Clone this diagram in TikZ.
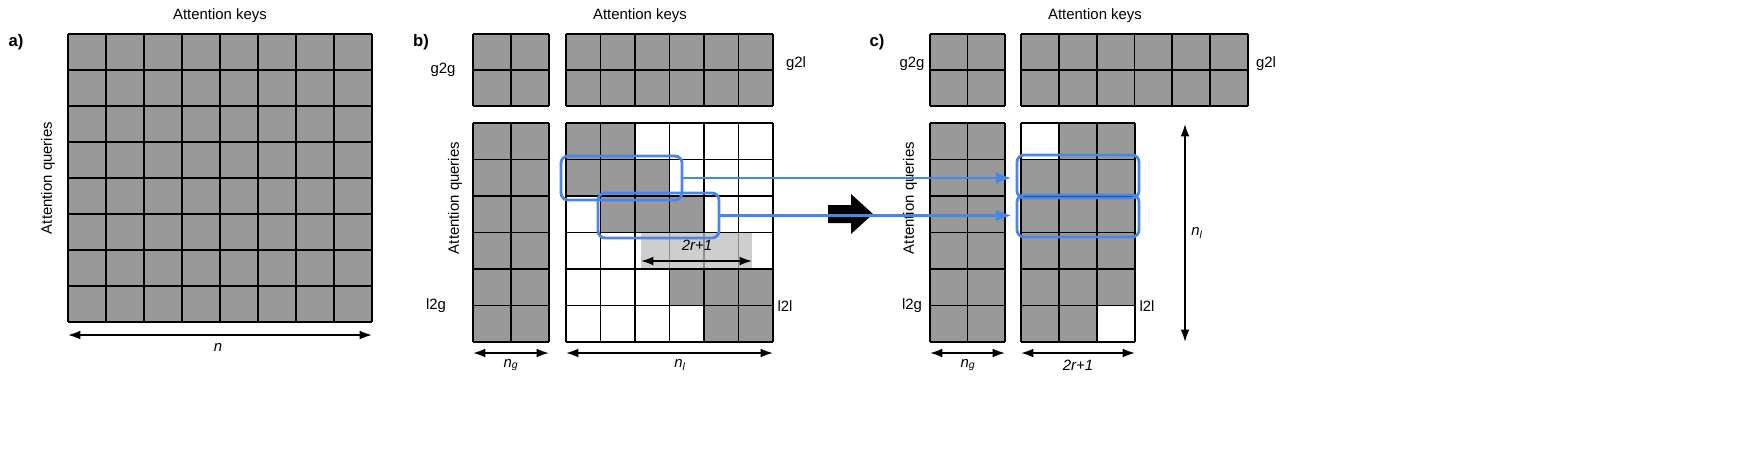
\documentclass[tikz,border=0pt]{standalone}
\usepackage{fontspec}
\setmainfont{Liberation Sans}
\usetikzlibrary{arrows.meta}
\definecolor{cellg}{RGB}{153,153,153}
\definecolor{hl}{RGB}{190,190,190}
\definecolor{bl}{RGB}{74,134,232}
\tikzset{
  lab/.style={font=\fontsize{8.5}{10}\selectfont, inner sep=0pt},
  ital/.style={lab, font=\fontsize{8.5}{10}\selectfont\itshape},
  pl/.style={font=\fontsize{9.5}{11}\selectfont\bfseries, inner sep=0pt},
  dim/.style={{Latex[length=7pt,width=5pt]}-{Latex[length=7pt,width=5pt]}, line width=1pt},
  bbox/.style={draw=bl, line width=1.6pt, rounded corners=4pt},
  barr/.style={draw=bl, line width=1.6pt, -{Latex[length=9pt,width=7pt]}},
  gl/.style={line width=1.1pt},
}
\newcommand\mygrid[8]{%
  \coordinate (#1-nw) at (#2,#3); \coordinate (#1-se) at (#4,#5);
  \pgfmathsetmacro\cw{(#4-#2)/#6}\pgfmathsetmacro\ch{(#5-#3)/#7}
  \foreach \c/\r in {#8}{\fill[cellg] ({#2+\c*\cw},{#3+\r*\ch}) rectangle ++(\cw,\ch);}
  \foreach \i in {0,...,#6}{\draw[gl] ({#2+\i*\cw},#3) -- ({#2+\i*\cw},#5);}
  \foreach \j in {0,...,#7}{\draw[gl] (#2,{#3+\j*\ch}) -- (#4,{#3+\j*\ch});}
}
\begin{document}
\begin{tikzpicture}[x=0.02cm,y=-0.02cm]
\useasboundingbox (0,0) rectangle (1740,464);
% ---------- a ----------
\node[pl] (la) at (16,42) {a)};
\node[lab] (ka) at (220,16) {Attention keys};
\node[lab,rotate=90] (qa) at (48,178) {Attention queries};
\mygrid{A}{68}{34}{372}{322}{8}{8}{0/0,1/0,2/0,3/0,4/0,5/0,6/0,7/0,0/1,1/1,2/1,3/1,4/1,5/1,6/1,7/1,0/2,1/2,2/2,3/2,4/2,5/2,6/2,7/2,0/3,1/3,2/3,3/3,4/3,5/3,6/3,7/3,0/4,1/4,2/4,3/4,4/4,5/4,6/4,7/4,0/5,1/5,2/5,3/5,4/5,5/5,6/5,7/5,0/6,1/6,2/6,3/6,4/6,5/6,6/6,7/6,0/7,1/7,2/7,3/7,4/7,5/7,6/7,7/7}
\coordinate (a1) at (68,335); \coordinate (a2) at (372,335);
\draw[dim] (a1) -- (a2);
\node[ital] (na) at (218,347) {n};
% ---------- b ----------
\node[pl] (lb) at (421,42) {b)};
\node[lab] (kb) at (640,16) {Attention keys};
\node[lab,rotate=90] (qb) at (455,198) {Attention queries};
\node[lab] (g2gb) at (443,70) {g2g};
\node[lab] (g2lb) at (796,64) {g2l};
\node[lab] (l2gb) at (436,306) {l2g};
\node[lab] (l2lb) at (785,306) {l2l};
\mygrid{B1}{473}{34}{549}{106}{2}{2}{0/0,1/0,0/1,1/1}
\mygrid{B2}{566}{34}{773}{106}{6}{2}{0/0,1/0,2/0,3/0,4/0,5/0,0/1,1/1,2/1,3/1,4/1,5/1}
\mygrid{B3}{473}{123}{549}{342}{2}{6}{0/0,1/0,0/1,1/1,0/2,1/2,0/3,1/3,0/4,1/4,0/5,1/5}
\mygrid{B4}{566}{123}{773}{342}{6}{6}{0/0,1/0,0/1,1/1,2/1,1/2,2/2,3/2,3/4,4/4,5/4,4/5,5/5}
\fill[hl,opacity=0.75] (641,233) rectangle (752,268);
\coordinate (r1) at (641,261); \coordinate (r2) at (752,261);
\draw[dim,line width=0.8pt] (r1) -- (r2);
\node[ital] (rb) at (697,245) {2r+1};
\node[bbox,minimum width=2.42cm,minimum height=0.88cm] (bb1) at (621.5,178) {};
\node[bbox,minimum width=2.42cm,minimum height=0.9cm] (bb2) at (658.5,215.5) {};
\coordinate (b1) at (473,353); \coordinate (b2) at (549,353);
\coordinate (b3) at (566,353); \coordinate (b4) at (773,353);
\draw[dim] (b1) -- (b2); \draw[dim] (b3) -- (b4);
\node[ital] (ngb) at (511,365) {n\textsubscript{g}};
\node[ital] (nlb) at (680,365) {n\textsubscript{l}};
% big arrow
\fill[black] (828,205) -- (851,205) -- (851,194) -- (873,214) -- (851,234) -- (851,223) -- (828,223) -- cycle;
% ---------- c ----------
\node[pl] (lc) at (877,42) {c)};
\node[lab] (kc) at (1095,16) {Attention keys};
\node[lab,rotate=90] (qc) at (910,198) {Attention queries};
\node[lab] (g2gc) at (912,64) {g2g};
\node[lab] (g2lc) at (1266,64) {g2l};
\node[lab] (l2gc) at (912,306) {l2g};
\node[lab] (l2lc) at (1147,306) {l2l};
\mygrid{C1}{930}{34}{1005}{106}{2}{2}{0/0,1/0,0/1,1/1}
\mygrid{C2}{1021}{34}{1248}{106}{6}{2}{0/0,1/0,2/0,3/0,4/0,5/0,0/1,1/1,2/1,3/1,4/1,5/1}
\mygrid{C3}{930}{123}{1005}{342}{2}{6}{0/0,1/0,0/1,1/1,0/2,1/2,0/3,1/3,0/4,1/4,0/5,1/5}
\mygrid{C4}{1021}{123}{1135}{342}{3}{6}{1/0,2/0,0/1,1/1,2/1,0/2,1/2,2/2,0/3,1/3,2/3,0/4,1/4,2/4,0/5,1/5}
\node[bbox,minimum width=2.44cm,minimum height=0.86cm] (cb1) at (1078,176.5) {};
\node[bbox,minimum width=2.44cm,minimum height=0.84cm] (cb2) at (1078,216) {};
\draw[barr] (bb1.east) -- ([xshift=-0.08cm]cb1.west |- bb1.east);
\draw[barr] (bb2.east) -- ([xshift=-0.08cm]cb2.west |- bb2.east);
\coordinate (v1) at (1185,124); \coordinate (v2) at (1185,342);
\draw[dim] (v1) -- (v2);
\node[ital] (nlv) at (1197,233) {n\textsubscript{l}};
\coordinate (c1) at (930,353); \coordinate (c2) at (1005,353);
\coordinate (c3) at (1021,353); \coordinate (c4) at (1135,353);
\draw[dim] (c1) -- (c2); \draw[dim] (c3) -- (c4);
\node[ital] (ngc) at (968,365) {n\textsubscript{g}};
\node[ital] (rc) at (1078,365) {2r+1};
\end{tikzpicture}
\end{document}
